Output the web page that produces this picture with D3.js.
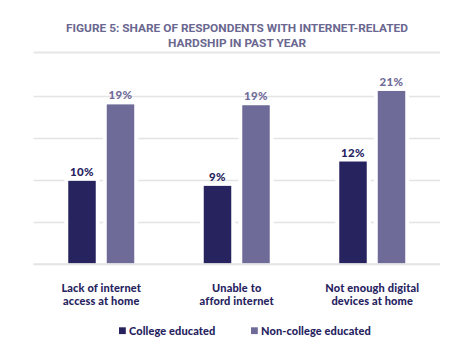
<!DOCTYPE html>
<html>
<head>
<meta charset="utf-8">
<script src="https://cdn.jsdelivr.net/npm/d3@7"></script>
<style>
  html, body { margin: 0; padding: 0; background: #ffffff; }
  svg { display: block; }
</style>
</head>
<body>
<svg id="chart" width="474" height="351"></svg>
<script>
// ---- data ----
const titleLines = ["FIGURE 5: SHARE OF RESPONDENTS WITH INTERNET-RELATED", "HARDSHIP IN PAST YEAR"];
const categories = ["Lack of internet\naccess at home", "Unable to\nafford internet", "Not enough digital\ndevices at home"];
const seriesNames = ["College educated", "Non-college educated"];
const collegeValues = [9.9, 9.3, 12.2];
const nonCollegeValues = [19.0, 18.9, 20.6];
const collegeLabels = ["10%", "9%", "12%"];
const nonCollegeLabels = ["19%", "19%", "21%"];
const yTicks = [0, 5, 10, 15, 20];

// ---- styles ----
const colors = ["#27235f", "#6f6b98"];
const labelColors = ["#27235f", "#6f6b98"];
const titleColor = "#6a6790";
const gridColor = "#e4e4e6";
const font = "Lato, 'Open Sans', sans-serif";

const svg = d3.select("#chart");
const plotLeft = 33.5, plotRight = 440, plotBottom = 264, plotTop = 96;

const x0 = d3.scaleBand().domain(categories).range([plotLeft, plotRight])
  .paddingInner(0.513).paddingOuter(0.2565);
const x1 = d3.scaleBand().domain(seriesNames).range([0, x0.bandwidth()])
  .paddingInner(0.286).paddingOuter(0);
const y = d3.scaleLinear().domain([0, 20]).range([plotBottom, plotTop]);

// title
const title = svg.append("g");
titleLines.forEach((t, i) => {
  title.append("text")
    .attr("x", 237).attr("y", 32.3 + i * 15)
    .attr("text-anchor", "middle")
    .attr("font-family", "Roboto, sans-serif")
    .attr("font-weight", 700)
    .attr("font-size", 11.2)
    .attr("fill", titleColor)
    .attr("textLength", i === 0 ? 342 : 138)
    .attr("lengthAdjust", "spacingAndGlyphs")
    .text(t);
});
svg.append("line")
  .attr("x1", plotLeft).attr("x2", plotRight).attr("y1", 52.5).attr("y2", 52.5)
  .attr("stroke", "#e6e6e8").attr("stroke-width", 2);

// grid
const yAxis = d3.axisLeft(y).tickValues(yTicks).tickSize(-(plotRight - plotLeft)).tickFormat("");
const gAxis = svg.append("g").attr("transform", `translate(${plotLeft},0)`).call(yAxis);
gAxis.select(".domain").remove();
gAxis.selectAll(".tick line").attr("stroke", gridColor).attr("stroke-width", 1.5);

// data rows
const rows = categories.map((c, i) => ({
  cat: c,
  vals: [
    { s: seriesNames[0], v: collegeValues[i], label: collegeLabels[i], k: 0 },
    { s: seriesNames[1], v: nonCollegeValues[i], label: nonCollegeLabels[i], k: 1 }
  ]
}));

const groups = svg.append("g").selectAll("g").data(rows).join("g")
  .attr("transform", d => `translate(${x0(d.cat)},0)`);

// white halo behind bars (gridline gaps)
groups.selectAll("rect.halo").data(d => d.vals).join("rect")
  .attr("class", "halo")
  .attr("x", d => x1(d.s) - 4)
  .attr("width", x1.bandwidth() + 8)
  .attr("y", d => y(d.v) - 4)
  .attr("height", d => y(0) - y(d.v) + 3)
  .attr("fill", "#ffffff");

// baseline redrawn on top of halos
svg.append("line")
  .attr("x1", plotLeft).attr("x2", plotRight).attr("y1", y(0)).attr("y2", y(0))
  .attr("stroke", gridColor).attr("stroke-width", 1.5);

groups.selectAll("rect.bar").data(d => d.vals).join("rect")
  .attr("class", "bar")
  .attr("x", d => x1(d.s))
  .attr("width", x1.bandwidth())
  .attr("y", d => y(d.v))
  .attr("height", d => y(0) - y(d.v) - 0.5)
  .attr("fill", d => colors[d.k]);

groups.selectAll("text.val").data(d => d.vals).join("text")
  .attr("class", "val")
  .attr("x", d => x1(d.s) + x1.bandwidth() / 2)
  .attr("y", d => y(d.v) - 5)
  .attr("text-anchor", "middle")
  .attr("font-family", font)
  .attr("font-weight", 900)
  .attr("font-size", 11.5)
  .attr("letter-spacing", 0.4)
  .attr("fill", d => labelColors[d.k])
  .text(d => d.label);

// category labels
const catG = svg.append("g");
categories.forEach(c => {
  const lines = c.split("\n");
  const t = catG.append("text")
    .attr("text-anchor", "middle")
    .attr("font-family", font)
    .attr("font-weight", 900)
    .attr("font-size", 11)
    .attr("letter-spacing", 0.15)
    .attr("fill", "#27235f");
  lines.forEach((ln, i) => {
    t.append("tspan")
      .attr("x", x0(c) + x0.bandwidth() / 2)
      .attr("y", 292 + i * 13)
      .text(ln);
  });
});

// legend
const legendX = [119, 251];
const legend = svg.append("g");
seriesNames.forEach((s, i) => {
  legend.append("rect")
    .attr("x", legendX[i]).attr("y", 327.3)
    .attr("width", 6.8).attr("height", 6.8)
    .attr("fill", colors[i]);
  legend.append("text")
    .attr("x", legendX[i] + 10).attr("y", 334.5)
    .attr("font-family", font)
    .attr("font-weight", 900)
    .attr("font-size", 11)
    .attr("letter-spacing", 0.1)
    .attr("fill", "#27235f")
    .text(s);
});
</script>
</body>
</html>
